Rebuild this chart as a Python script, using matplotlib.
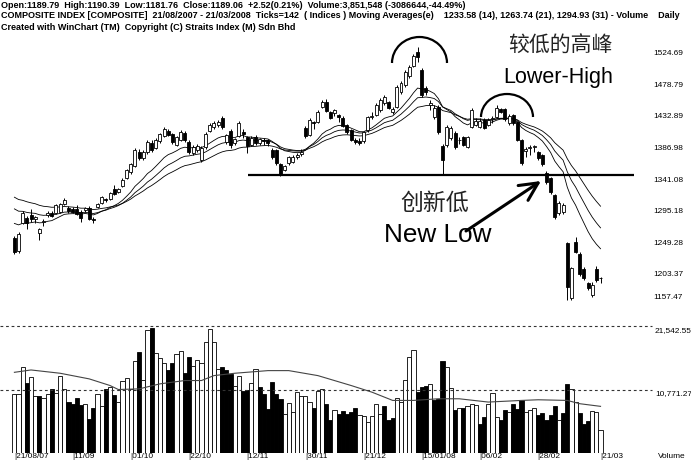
"""Composite index daily candles with EMAs and volume, 21/08/2007 - 21/03/2008."""
import matplotlib
matplotlib.use("Agg")
import matplotlib.pyplot as plt
from matplotlib.patches import Arc
from matplotlib.transforms import ScaledTranslation
import numpy as np

NARROW = dict(family=["Liberation Sans", "DejaVu Sans"])
CJK = ["Noto Sans CJK SC", "DejaVu Sans"]

# daily OHLC, one entry per trading day
opens = [
    1248, 1229, 1269, 1277, 1281, 1275, 1255, 1271, 1281, 1284,
    1284, 1285, 1297, 1291, 1290, 1290, 1285, 1288, 1291, 1275,
    1293, 1298, 1304, 1304, 1319, 1314, 1323, 1335, 1343, 1352,
    1372, 1364, 1372, 1385, 1378, 1388, 1396, 1403, 1398, 1383,
    1390, 1400, 1387, 1371, 1375, 1361, 1380, 1403, 1409, 1412,
    1422, 1387, 1403, 1385, 1396, 1401, 1394, 1383, 1394, 1385,
    1390, 1389, 1375, 1375, 1355, 1346, 1356, 1358, 1365, 1370,
    1407, 1397, 1416, 1416, 1438, 1445, 1430, 1429, 1426, 1422,
    1411, 1404, 1390, 1388, 1388, 1404, 1423, 1426, 1433, 1443,
    1445, 1430, 1438, 1459, 1470, 1483, 1497, 1518, 1491, 1465,
    1441, 1423, 1438, 1381, 1383, 1393, 1400, 1389, 1394, 1380,
    1409, 1412, 1409, 1419, 1412, 1420, 1423, 1434, 1434, 1414,
    1426, 1416, 1390, 1374, 1378, 1379, 1372, 1368, 1342, 1334,
    1310, 1284, 1285, 1240, 1161, 1242, 1224, 1202, 1182, 1165,
    1203, 1189.79,
]
highs = [
    1250, 1256, 1287, 1280, 1290, 1280, 1262, 1275, 1287, 1287,
    1297, 1298, 1306, 1294, 1293, 1295, 1288, 1293, 1294, 1278,
    1298, 1308, 1306, 1314, 1324, 1320, 1335, 1348, 1357, 1378,
    1376, 1375, 1389, 1389, 1392, 1400, 1408, 1406, 1400, 1396,
    1404, 1403, 1389, 1383, 1384, 1381, 1401, 1414, 1417, 1419,
    1425, 1399, 1405, 1393, 1417, 1405, 1396, 1395, 1397, 1393,
    1392, 1391, 1378, 1377, 1357, 1354, 1367, 1368, 1371, 1376,
    1410, 1421, 1418, 1433, 1448, 1449, 1432, 1435, 1428, 1424,
    1413, 1406, 1393, 1392, 1403, 1425, 1430, 1443, 1450, 1455,
    1447, 1437, 1469, 1475, 1491, 1499, 1515, 1524.69, 1494, 1468,
    1448, 1440, 1441, 1384, 1412, 1410, 1403, 1394, 1396, 1396,
    1436, 1422, 1421, 1421, 1421, 1425, 1440, 1436, 1436, 1428,
    1428, 1418, 1391, 1380, 1382, 1383, 1374, 1370, 1344, 1336,
    1312, 1301, 1298, 1242, 1206, 1249, 1227, 1205, 1184, 1183,
    1207, 1190.39,
]
lows = [
    1224, 1226, 1268, 1261, 1271, 1269, 1245, 1265, 1278, 1278,
    1282, 1284, 1295, 1284, 1284, 1281, 1271, 1285, 1274, 1269,
    1291, 1297, 1300, 1303, 1310, 1313, 1322, 1333, 1341, 1350,
    1361, 1361, 1370, 1372, 1376, 1386, 1394, 1395, 1384, 1381,
    1388, 1387, 1369, 1368, 1372, 1358, 1377, 1401, 1406, 1409,
    1406, 1384, 1378, 1383, 1394, 1392, 1371, 1381, 1383, 1383,
    1382, 1381, 1362, 1354, 1337.5, 1344, 1354, 1356, 1362, 1366,
    1393, 1395, 1406, 1414, 1436, 1430, 1420, 1425, 1416, 1408,
    1399, 1388, 1384, 1383, 1386, 1402, 1420, 1424, 1431, 1441,
    1434, 1428, 1436, 1457, 1467, 1480, 1495, 1503, 1452, 1455,
    1433, 1420, 1398, 1340, 1380, 1390, 1377, 1384, 1381, 1378,
    1407, 1410, 1407, 1405, 1410, 1415, 1421, 1429, 1418, 1412,
    1412, 1388, 1353, 1365, 1368, 1372, 1361, 1352, 1326, 1311,
    1275, 1281, 1282, 1157.47, 1158, 1225, 1193, 1186, 1172, 1162,
    1184, 1181.76,
]
closes = [
    1227, 1253, 1284, 1269, 1275, 1278, 1261, 1272, 1284, 1279,
    1295, 1297, 1303, 1287, 1285, 1282, 1277, 1291, 1275, 1274,
    1297, 1307, 1303, 1313, 1311, 1319, 1332, 1346, 1355, 1375,
    1364, 1372, 1387, 1375, 1390, 1398, 1406, 1397, 1387, 1394,
    1401, 1390, 1372, 1380, 1381, 1378, 1398, 1411, 1414, 1416,
    1409, 1397, 1382, 1391, 1414, 1398, 1381, 1393, 1385, 1391,
    1388, 1386, 1365, 1356, 1339, 1352, 1365, 1365, 1368, 1373,
    1396, 1419, 1414, 1430, 1445, 1432, 1422, 1433, 1423, 1410,
    1401, 1390, 1387, 1386, 1401, 1423, 1425, 1440, 1448, 1452,
    1436, 1434, 1467, 1472, 1488, 1496, 1512, 1510, 1455, 1459,
    1443, 1436, 1401, 1361, 1409, 1407, 1380, 1390, 1383, 1394,
    1433, 1418, 1417, 1407, 1419, 1422, 1436, 1431, 1420, 1425,
    1414, 1390, 1356, 1376, 1380, 1381, 1364, 1355, 1329, 1314,
    1278, 1298, 1296, 1176, 1204, 1227, 1195, 1189, 1175, 1179,
    1186.54, 1189.06,
]

# volume in thousands, 1 = down day (black bar)
volumes = [
    10040, 10040, 14660, 11840, 12860, 9590, 9590, 9360, 9930, 10890,
    10150, 13140, 10890, 8630, 8230, 9360, 8070, 8230, 5810, 7670,
    10040, 7900, 10890, 11280, 9760, 8630, 12180, 12750, 10890, 15680,
    17200, 12410, 20870, 21320, 16980, 16130, 15230, 14100, 15230, 16810,
    17370, 13540, 16240, 14830, 15790, 15230, 18950, 21040, 18950, 14270,
    14550, 14100, 13420, 11450, 13140, 10600, 10720, 11840, 14270, 11280,
    9930, 7500, 12010, 9930, 9190, 6650, 8520, 6940, 10320, 9590,
    9590, 8630, 7670, 10600, 10890, 8230, 5640, 7220, 6540, 7110,
    6540, 6940, 7670, 6370, 6200, 5250, 6200, 8350, 6540, 7900,
    5640, 5980, 9360, 8630, 12410, 16360, 17480, 10320, 11170, 11450,
    11730, 8910, 9190, 15570, 14660, 11050, 7220, 7670, 7670, 7900,
    8230, 8070, 4960, 6090, 8350, 10150, 6090, 5640, 7220, 6940,
    8350, 7500, 9020, 6940, 7330, 7670, 6370, 6770, 5640, 6370,
    7900, 5640, 6770, 11730, 10890, 8630, 6770, 4960, 5410, 7110,
    6938, 3852,
]
vol_down = [
    0, 0, 0, 1, 0, 0, 1, 0, 0, 1,
    0, 0, 0, 1, 1, 1, 1, 0, 1, 1,
    0, 0, 1, 0, 1, 0, 0, 0, 0, 0,
    1, 0, 0, 1, 0, 0, 0, 1, 1, 0,
    0, 1, 1, 0, 0, 0, 0, 0, 0, 0,
    1, 1, 1, 0, 0, 1, 1, 0, 0, 1,
    1, 1, 1, 1, 1, 0, 0, 0, 0, 0,
    0, 0, 1, 0, 0, 1, 1, 0, 1, 1,
    1, 1, 1, 0, 0, 0, 0, 0, 0, 1,
    1, 1, 0, 0, 0, 0, 0, 1, 1, 1,
    0, 1, 1, 1, 0, 0, 1, 0, 1, 0,
    0, 0, 1, 1, 0, 0, 0, 1, 1, 0,
    1, 1, 1, 0, 0, 0, 1, 1, 1, 1,
    1, 0, 1, 1, 0, 0, 1, 1, 1, 0,
    0, 0,
]

# volume average line at these bars
vol_avg_idx = [0, 4, 11, 18, 23, 25, 30, 35, 41, 45, 48, 53, 61, 66, 73,
               81, 86, 91, 96, 102, 107, 114, 122, 126, 133, 136, 141]
vol_avg = [13700, 14100, 13540, 12580, 11450, 10770, 10880, 11730, 12300,
           12300, 13140, 13540, 13990, 13990, 13140, 11450, 10320, 8910,
           8910, 9190, 9190, 8630, 8910, 9020, 8910, 8350, 7900]

ma_periods = [14, 21, 31]
ma_seeds = [1275, 1296, 1312]   # average level just before the first bar

price_ticks = [1524.69, 1478.79, 1432.89, 1386.98, 1341.08,
               1295.18, 1249.28, 1203.37, 1157.47]
vol_ticks = [21542.55, 10771.27]
date_idx = [0, 14, 28, 42, 56, 70, 84, 98, 112, 126, 141]
date_labels = ["21/08/07", "11/09", "01/10", "22/10", "12/11", "30/11",
               "21/12", "15/01/08", "06/02", "28/02", "21/03"]
support_level = 1339

header = [
    "Open:1189.79  High:1190.39  Low:1181.76  Close:1189.06  +2.52(0.21%)  "
    "Volume:3,851,548 (-3086644,-44.49%)",
    "COMPOSITE INDEX [COMPOSITE]  21/08/2007 - 21/03/2008  Ticks=142  "
    "( Indices ) Moving Averages(e)    1233.58 (14), 1263.74 (21), "
    "1294.93 (31) - Volume    Daily",
    "Created with WinChart (TM)  Copyright (C) Straits Index (M) Sdn Bhd",
]


def ema(values, n, seed):
    a = 2.0 / (n + 1)
    out, e = [], seed
    for v in values:
        e += a * (v - e)
        out.append(e)
    return out


def fit_width(t, width_px):
    """Scale a text's font size so it spans width_px pixels."""
    r = fig.canvas.get_renderer()
    bb = t.get_window_extent(renderer=r)
    size = t.get_fontsize() * width_px / bb.width
    t.set_fontsize(size)
    return size


W, H = 691, 462
x0, pitch = 14.4, 4.157          # first bar centre and bar spacing, px
xlim = (-x0 / pitch, (W - x0) / pitch)

fig = plt.figure(figsize=(W / 100, H / 100), dpi=100)
ax = fig.add_axes([0, (H - 300) / H, 1, 253 / H])
axv = fig.add_axes([0, (H - 452.7) / H, 1, 126.4 / H])
over = fig.add_axes([0, 0, 1, 1])
for a in (ax, axv):
    a.set_xlim(*xlim)
    a.axis("off")
ax.set_ylim(min(price_ticks), max(price_ticks))
axv.set_ylim(0, max(vol_ticks))
over.set_xlim(0, W)
over.set_ylim(H, 0)
over.axis("off")

x = np.arange(len(closes))
o, h, l, c = map(np.array, (opens, highs, lows, closes))

# moving averages
for n, s in zip(ma_periods, ma_seeds):
    ax.plot(x, ema(closes, n, s), color="black", lw=0.6, zorder=1)

# candles
ax.vlines(x, l, h, color="black", lw=0.7, zorder=2, clip_on=False)
ax.bar(x, np.abs(c - o), bottom=np.minimum(o, c), width=0.72,
       color=np.where(c >= o, "white", "black"), edgecolor="black",
       lw=0.6, zorder=3, clip_on=False)

ax.hlines(support_level, 56.2, 149.0, color="black", lw=1.6, zorder=4)

# price scale
dpi_t = fig.dpi_scale_trans
ptexts = []
for v in price_ticks:
    dy = 2 if v == min(price_ticks) else -6.5
    ptexts.append(ax.text(
        653 / W, v, f"{v:.2f}", fontsize=7, va="center", ha="left",
        transform=ax.get_yaxis_transform() + ScaledTranslation(0, dy / 100, dpi_t),
        **NARROW))
size = fit_width(ptexts[0], 30)
for t in ptexts:
    t.set_fontsize(size)

# volume
axv.bar(x, volumes, width=1.0,
        color=["black" if d else "white" for d in vol_down],
        edgecolor="black", lw=0.6)
axv.plot(vol_avg_idx, vol_avg, color="#444444", lw=0.8)
for v in vol_ticks:
    axv.axhline(v, xmax=652 / W, color="#333333", lw=0.8,
                ls=(0, (2.5, 2.5)), clip_on=False)
    t = axv.text(655 / W, v, f"{v:,.2f}", fontsize=7, va="center", ha="left",
                 transform=axv.get_yaxis_transform()
                 + ScaledTranslation(0, -4 / 100, dpi_t), **NARROW)
    t.set_fontsize(size)

for i, lab in zip(date_idx, date_labels):
    t = axv.text(i - 0.15, -0.034, "|" + lab, fontsize=size, va="center",
                 ha="left", transform=axv.get_xaxis_transform(), **NARROW)
over.text(658, 457, "Volume", fontsize=size, va="center", **NARROW)

# header lines
htexts = [over.text(1, 5 + 11 * k, line, fontsize=7, weight="bold",
                    va="center", ha="left", **NARROW)
          for k, line in enumerate(header)]
hsize = fit_width(htexts[1], 686)
for t in htexts:
    t.set_fontsize(hsize)

# annotations
over.add_patch(Arc((419.5, 63), 55, 52, theta1=180, theta2=360,
                   color="black", lw=1.6))
over.add_patch(Arc((507, 117), 52, 46, theta1=180, theta2=360,
                   color="black", lw=1.6))
over.text(560, 45, "较低的高峰", fontsize=15, family=CJK, color="#222222",
          ha="center", va="center")
t = over.text(558, 78, "Lower-High", fontsize=19, ha="center", va="center",
              **NARROW)
fit_width(t, 110)
over.text(435, 203, "创新低", fontsize=16.5, family=CJK, color="#222222",
          ha="center", va="center")
t = over.text(438, 235, "New Low", fontsize=22, ha="center", va="center",
              **NARROW)
fit_width(t, 107)
over.annotate("", xy=(541, 181), xytext=(466, 231),
              arrowprops=dict(arrowstyle="->,head_length=0.65,head_width=0.32",
                              lw=2.2, color="black", mutation_scale=20,
                              shrinkA=0, shrinkB=0))

fig.savefig("out.png", dpi=100)
